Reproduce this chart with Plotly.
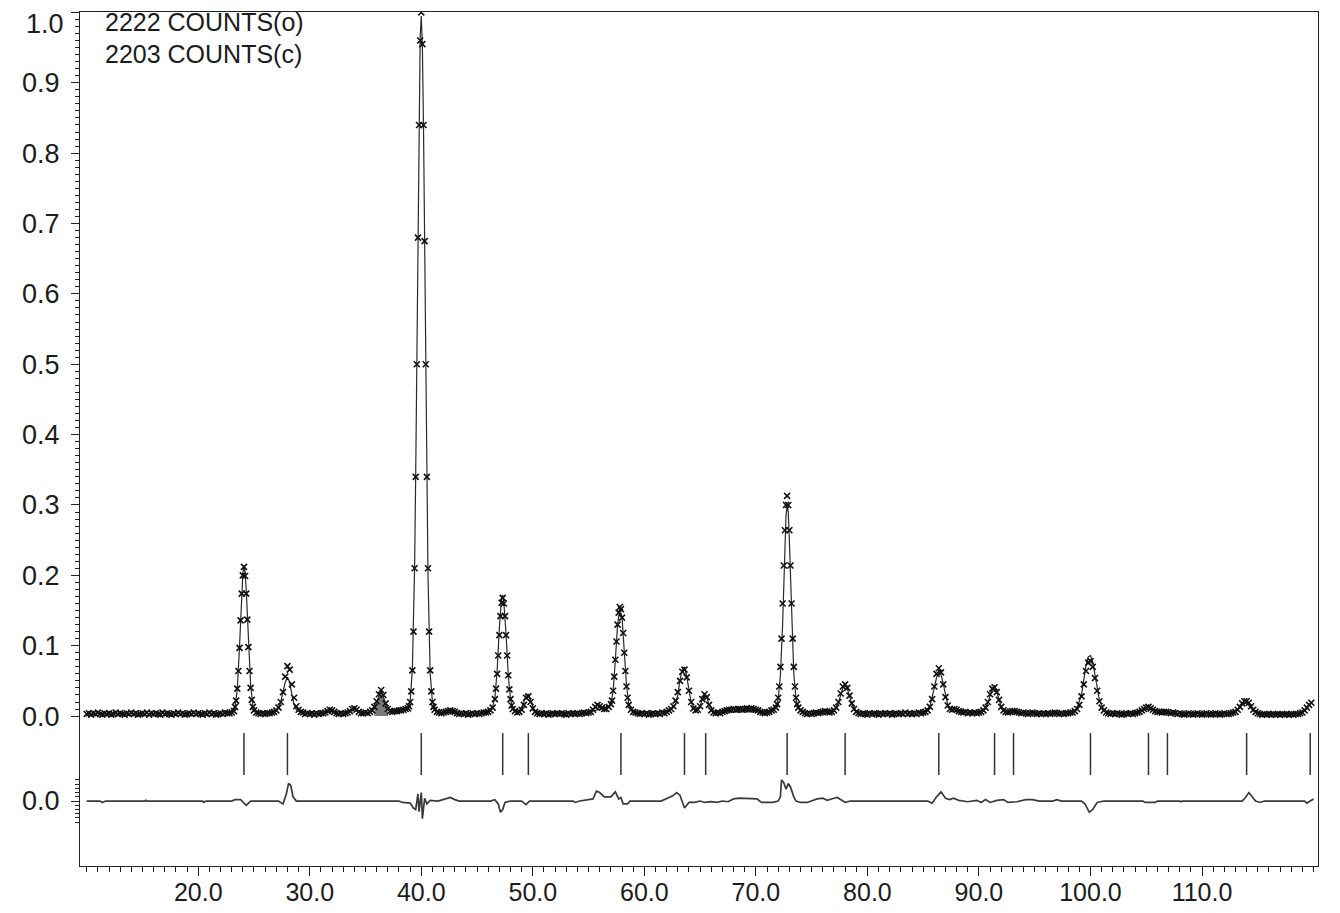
import plotly.graph_objects as go

# ---------------- data ----------------
# observed intensity, sampled on scan segments (start, stop, step)
obs_10_23 = [0.003,0.004,0.002,0.004,0.003,0.005,0.003,0.002,0.004,0.003,
             0.004,0.002,0.003,0.005,0.003,0.004,0.003,0.002,0.004,0.003,
             0.005,0.003,0.004,0.002,0.003,0.004,0.003,0.005,0.002,0.004,
             0.003,0.004,0.003,0.002,0.005,0.003,0.004,0.003,0.002,0.004,
             0.003,0.005,0.003,0.004,0.002,0.003,0.004,0.003,0.005,0.003,
             0.004,0.003,0.002,0.004,0.003,0.005,0.003,0.004,0.002,0.003,
             0.004,0.003,0.005,0.004,0.004,0.005,0.007]
obs_23_25 = [0.013,0.022,0.039,0.064,0.097,0.136,0.174,0.200,0.212,0.199,
             0.174,0.137,0.098,0.064,0.040,0.023,0.013,0.008]
obs_25_39 = [0.005,0.004,0.003,0.004,0.003,0.004,0.004,0.005,0.006,0.008,
             0.012,0.020,0.034,0.056,0.071,0.066,0.045,0.026,0.014,0.009,
             0.006,0.005,0.003,0.004,0.003,0.004,0.002,0.004,0.003,0.004,
             0.004,0.005,0.007,0.009,0.008,0.006,0.004,0.003,0.004,0.003,
             0.004,0.005,0.007,0.010,0.011,0.009,0.006,0.004,0.004,0.005,
             0.004,0.006,0.008,0.013,0.021,0.031,0.037,0.030,0.018,0.010,
             0.007,0.006,0.007,0.007,0.008,0.008,0.009,0.010,0.011]
obs_39_41 = [0.014,0.020,0.035,0.065,0.120,0.210,0.340,0.500,0.680,0.840,
             0.960,1.000,0.955,0.840,0.675,0.500,0.340,0.210,0.120,0.065,
             0.035,0.020,0.013,0.009]
obs_41_47 = [0.006,0.005,0.004,0.005,0.006,0.007,0.008,0.007,0.006,0.004,
             0.003,0.004,0.003,0.004,0.002,0.003,0.004,0.003,0.004,0.003,
             0.004,0.005,0.005,0.006,0.008,0.012,0.024]
obs_47_48 = [0.039,0.060,0.086,0.115,0.142,0.161,0.168,0.160,0.142,0.115,
             0.086,0.058,0.038,0.024,0.015,0.010]
obs_48_57 = [0.007,0.005,0.006,0.009,0.016,0.026,0.028,0.020,0.011,0.006,
             0.004,0.003,0.004,0.003,0.004,0.002,0.003,0.004,0.003,0.004,
             0.003,0.004,0.003,0.002,0.004,0.003,0.004,0.003,0.004,0.003,
             0.004,0.005,0.004,0.005,0.006,0.009,0.013,0.016,0.014,0.012,
             0.010,0.010,0.013,0.017]
obs_57_59 = [0.022,0.036,0.056,0.080,0.106,0.130,0.147,0.155,0.152,0.140,
             0.118,0.090,0.064,0.042,0.026,0.016]
obs_59_72 = [0.009,0.006,0.005,0.004,0.003,0.004,0.003,0.004,0.002,0.003,
             0.004,0.003,0.004,0.003,0.005,0.004,0.006,0.008,0.010,0.014,
             0.022,0.034,0.050,0.063,0.066,0.055,0.036,0.020,0.011,0.008,
             0.009,0.014,0.024,0.031,0.027,0.016,0.008,0.005,0.004,0.005,
             0.004,0.006,0.007,0.008,0.009,0.009,0.010,0.009,0.010,0.010,
             0.009,0.010,0.011,0.010,0.011,0.010,0.009,0.008,0.006,0.005,
             0.004,0.005,0.006,0.008,0.009,0.012]
obs_72_74 = [0.017,0.026,0.042,0.070,0.110,0.160,0.214,0.264,0.300,0.313,
             0.300,0.264,0.214,0.160,0.110,0.070,0.042,0.026,0.017,0.012]
obs_74_120 = [0.008,0.006,0.004,0.003,0.004,0.003,0.004,0.005,0.004,0.005,
              0.006,0.007,0.006,0.005,0.006,0.008,0.012,0.020,0.032,0.042,
              0.045,0.040,0.029,0.018,0.010,0.006,0.004,0.003,0.004,0.003,
              0.002,0.004,0.003,0.004,0.003,0.002,0.004,0.003,0.004,0.003,
              0.004,0.002,0.003,0.004,0.003,0.004,0.003,0.005,0.003,0.004,
              0.003,0.004,0.003,0.005,0.004,0.005,0.006,0.008,0.013,0.024,
              0.042,0.060,0.068,0.062,0.045,0.027,0.015,0.010,0.009,0.010,
              0.009,0.007,0.006,0.005,0.006,0.004,0.005,0.004,0.005,0.004,
              0.005,0.006,0.008,0.012,0.020,0.031,0.039,0.041,0.034,0.023,
              0.013,0.008,0.006,0.005,0.006,0.007,0.007,0.006,0.005,0.004,
              0.005,0.004,0.003,0.004,0.005,0.004,0.003,0.004,0.003,0.004,
              0.003,0.004,0.003,0.004,0.005,0.004,0.003,0.004,0.003,0.004,
              0.004,0.005,0.005,0.007,0.010,0.016,0.028,0.045,0.064,0.076,
              0.078,0.070,0.054,0.036,0.021,0.012,0.008,0.005,0.004,0.003,
              0.004,0.003,0.004,0.003,0.002,0.003,0.004,0.003,0.004,0.003,
              0.004,0.005,0.006,0.008,0.010,0.012,0.013,0.011,0.009,0.007,
              0.006,0.006,0.005,0.006,0.006,0.005,0.004,0.005,0.004,0.003,
              0.004,0.003,0.002,0.003,0.004,0.003,0.002,0.003,0.004,0.003,
              0.002,0.003,0.004,0.003,0.002,0.003,0.004,0.003,0.002,0.003,
              0.004,0.003,0.003,0.004,0.005,0.006,0.009,0.013,0.018,0.021,
              0.021,0.019,0.014,0.009,0.006,0.004,0.003,0.002,0.003,0.002,
              0.003,0.002,0.003,0.002,0.003,0.002,0.003,0.002,0.003,0.002,
              0.003,0.002,0.003,0.003,0.004,0.005,0.008,0.012,0.016,0.019]

scan_segments = [  # (start 2theta, end 2theta, step, observed values)
    (10.0, 23.2, 0.2, obs_10_23),
    (23.3, 25.0, 0.1, obs_23_25),
    (25.2, 38.8, 0.2, obs_25_39),
    (38.9, 41.2, 0.1, obs_39_41),
    (41.4, 46.6, 0.2, obs_41_47),
    (46.7, 48.2, 0.1, obs_47_48),
    (48.4, 57.0, 0.2, obs_48_57),
    (57.1, 58.6, 0.1, obs_57_59),
    (58.8, 71.8, 0.2, obs_59_72),
    (71.9, 73.8, 0.1, obs_72_74),
    (74.0, 119.8, 0.2, obs_74_120),
]

# calculated profile
calc_x = [10.0, 23.0, 23.3, 23.5, 23.7, 23.9, 24.0, 24.1, 24.2, 24.3, 24.5, 24.7, 24.9, 25.2,
          26.8, 27.2, 27.4, 27.6, 27.8, 28.0, 28.2, 28.4, 28.6, 28.8, 29.2,
          31.4, 32.0, 32.6, 33.4, 34.0, 34.6, 35.4, 36.0, 36.4, 36.8, 37.2, 38.0, 38.8,
          39.0, 39.2, 39.4, 39.5, 39.6, 39.7, 39.8, 39.9, 40.0, 40.1, 40.2, 40.3, 40.4, 40.5,
          40.6, 40.8, 41.0, 41.4,
          42.0, 42.6, 43.2, 45.6, 46.4, 46.6, 46.8, 47.0, 47.1, 47.2, 47.3, 47.4, 47.6, 47.8,
          48.0, 48.2, 48.6,
          49.0, 49.4, 49.6, 49.8, 50.2, 54.6, 55.4, 55.8, 56.2, 56.6, 57.0, 57.2, 57.4, 57.6,
          57.8, 58.0, 58.2, 58.4, 58.6, 58.8, 59.2,
          62.2, 62.6, 62.8, 63.0, 63.2, 63.4, 63.6, 63.8, 64.0, 64.2, 64.6, 65.0, 65.2, 65.4,
          65.6, 65.8, 66.2,
          68.0, 70.0, 71.4, 71.8, 72.0, 72.2, 72.4, 72.6, 72.7, 72.8, 72.9, 73.0, 73.2, 73.4,
          73.6, 73.8, 74.2,
          77.0, 77.4, 77.8, 78.0, 78.2, 78.6, 79.0, 85.2, 85.6, 86.0, 86.2, 86.4, 86.6, 86.8,
          87.2, 87.6,
          90.4, 90.8, 91.2, 91.4, 91.6, 92.0, 92.4, 93.2, 94.0, 98.4, 98.8, 99.2, 99.6, 99.8,
          100.0, 100.2, 100.4, 100.8, 101.2, 101.8,
          104.4, 105.0, 105.2, 105.6, 106.2, 106.8, 107.4, 112.8, 113.2, 113.6, 113.8, 114.0,
          114.2, 114.6, 115.0, 118.6, 119.0, 119.4, 119.8]
calc_y = [0.003, 0.004, 0.012, 0.038, 0.098, 0.178, 0.202, 0.212, 0.205, 0.181, 0.104, 0.044, 0.015, 0.006,
          0.005, 0.012, 0.020, 0.032, 0.048, 0.055, 0.048, 0.030, 0.016, 0.009, 0.005,
          0.004, 0.008, 0.004, 0.005, 0.011, 0.005, 0.005, 0.020, 0.036, 0.018, 0.007, 0.008, 0.011,
          0.020, 0.066, 0.210, 0.345, 0.510, 0.690, 0.850, 0.965, 0.995, 0.950, 0.835, 0.665, 0.490, 0.330,
          0.200, 0.060, 0.020, 0.006,
          0.005, 0.006, 0.004, 0.004, 0.013, 0.026, 0.064, 0.125, 0.155, 0.170, 0.172, 0.162, 0.116, 0.058,
          0.024, 0.010, 0.006,
          0.010, 0.030, 0.031, 0.021, 0.006, 0.004, 0.007, 0.009, 0.010, 0.012, 0.017, 0.035, 0.080, 0.130,
          0.153, 0.140, 0.092, 0.044, 0.017, 0.010, 0.005,
          0.007, 0.012, 0.016, 0.030, 0.052, 0.066, 0.070, 0.056, 0.035, 0.019, 0.009, 0.014, 0.024, 0.031,
          0.027, 0.016, 0.006,
          0.006, 0.006, 0.008, 0.012, 0.024, 0.058, 0.132, 0.245, 0.285, 0.298, 0.290, 0.250, 0.140, 0.060,
          0.024, 0.012, 0.006,
          0.007, 0.019, 0.040, 0.044, 0.039, 0.018, 0.006, 0.006, 0.014, 0.040, 0.055, 0.063, 0.059, 0.046,
          0.016, 0.007,
          0.007, 0.019, 0.039, 0.042, 0.034, 0.013, 0.006, 0.006, 0.004, 0.005, 0.011, 0.031, 0.072, 0.084,
          0.086, 0.077, 0.058, 0.023, 0.008, 0.004,
          0.006, 0.012, 0.013, 0.009, 0.006, 0.006, 0.004, 0.004, 0.009, 0.016, 0.019, 0.018,
          0.015, 0.007, 0.004, 0.003, 0.005, 0.011, 0.018]

# difference curve (obs - calc)
diff_x = [10.0, 11.2, 11.4, 11.7, 15.2, 15.3, 15.4, 20.4, 20.5, 20.7,
          23.0, 23.3, 23.8, 24.3, 24.7, 27.2, 27.6, 27.9, 28.1, 28.3, 28.5, 28.8,
          38.0, 38.3, 39.0, 39.3, 39.5, 39.7, 39.8, 40.0, 40.1, 40.3, 40.5, 40.8, 41.5, 42.2,
          42.6, 43.0, 43.4,
          46.2, 46.6, 46.9, 47.1, 47.3, 47.5, 48.0, 49.0, 49.4, 49.7,
          53.6, 53.8, 54.2, 55.4, 55.7, 56.0, 56.4, 57.0, 57.4, 57.7, 57.9, 58.1, 58.5, 58.7,
          61.5, 61.8, 62.5, 62.9, 63.2, 63.6, 63.8, 64.0, 64.5,
          65.0, 65.4, 66.0, 66.5, 67.0, 67.5, 68.0, 68.5, 69.5, 70.1, 70.5, 71.5, 72.0, 72.2,
          72.3, 72.5, 72.7, 72.9, 73.1, 73.4, 73.6, 74.0, 74.6, 75.5, 76.0, 76.4, 77.0, 77.3,
          77.7, 78.0, 78.5,
          85.4, 85.8, 86.2, 86.6, 87.0, 87.4, 87.7, 88.2, 89.0, 89.8, 90.2, 90.6, 91.0, 91.6,
          92.2, 92.6, 93.4, 94.2, 94.8, 95.4, 96.6, 97.0, 97.4,
          99.2, 99.5, 99.9, 100.2, 100.6, 101.2, 104.7, 104.9, 105.8, 106.0, 108.0, 108.1, 108.2,
          113.6, 113.9, 114.2, 114.5, 114.8, 115.2, 115.6, 119.2, 119.4, 119.7, 120.0]
diff_y = [0.0, 0.0, -0.002, 0.0, 0.0, 0.001, 0.0, 0.0, -0.002, 0.0,
          0.0, 0.002, 0.002, -0.006, 0.0, 0.0, -0.004, 0.010, 0.025, 0.022, 0.006, 0.0,
          0.0, -0.002, -0.003, -0.010, -0.012, 0.010, -0.015, 0.012, -0.025, 0.004, -0.004, 0.001, 0.0, 0.003,
          0.005, 0.002, 0.0,
          0.0, 0.002, -0.004, -0.016, -0.012, -0.002, 0.0, 0.0, -0.005, 0.0,
          0.0, -0.002, 0.0, 0.003, 0.014, 0.012, 0.006, 0.006, 0.013, 0.003, 0.005, -0.004, -0.004, 0.0,
          0.0, 0.002, 0.007, 0.012, 0.008, -0.010, -0.006, -0.002, -0.002,
          0.0, -0.002, -0.001, -0.002, 0.0, -0.001, 0.003, 0.004, 0.004, 0.003, -0.002, -0.002, 0.0, 0.006,
          0.030, 0.026, 0.017, 0.025, 0.020, 0.006, 0.0, -0.002, -0.002, 0.003, 0.004, 0.001, 0.004, 0.005,
          0.001, -0.002, 0.0,
          0.0, -0.003, 0.006, 0.013, 0.004, 0.002, 0.004, 0.001, -0.001, 0.001, -0.002, 0.002, -0.002, 0.001,
          0.002, -0.002, -0.001, 0.002, 0.002, 0.0, 0.0, 0.002, 0.0,
          0.0, -0.004, -0.016, -0.012, -0.002, 0.0, 0.0, -0.002, -0.002, 0.0, 0.0, -0.001, 0.0,
          0.0, 0.005, 0.012, 0.006, 0.0, -0.002, 0.0, 0.0, -0.003, 0.0, 0.003]

# Bragg reflection positions (2theta)
reflections = [24.1, 28.0, 40.0, 47.3, 49.6, 57.9, 63.6, 65.5, 72.8, 78.0,
               86.4, 91.4, 93.1, 100.0, 105.2, 106.9, 114.0, 119.7]

# window of the shaded (grey) peak
shaded_window = (35.8, 37.0)

y_tick_vals = [0.0, 0.1, 0.2, 0.3, 0.4, 0.5, 0.6, 0.7, 0.8, 0.9, 1.0]
x_tick_vals = [20, 30, 40, 50, 60, 70, 80, 90, 100, 110]
count_labels = ["2222 COUNTS(o)", "2203 COUNTS(c)"]

# ---------------- build observed arrays ----------------
obs_x, obs_y = [], []
for start, stop, step, vals in scan_segments:
    n = int(round((stop - start) / step)) + 1
    assert n == len(vals), (start, stop, n, len(vals))
    for i, v in enumerate(vals):
        obs_x.append(round(start + i * step, 3))
        obs_y.append(v)

shade_x = [x for x in obs_x if shaded_window[0] <= x <= shaded_window[1]]
shade_y = [y for x, y in zip(obs_x, obs_y) if shaded_window[0] <= x <= shaded_window[1]]

# ---------------- layout geometry (page has an 8 px body margin) ----------------
PAGE_OFF = 8
W, H = 1324, 897
PL, PR, PT, PB = 80, 1318, 12, 866        # plot box in window pixels
ML, MT = PL - PAGE_OFF, PT - PAGE_OFF
MR = W - (PR - PAGE_OFF)
MB = H - (PB - PAGE_OFF)
plot_w, plot_h = PR - PL, PB - PT
ZERO_PX = 716
px_per_unit = (ZERO_PX - PT) / 1.0
main_bottom = -(PB - ZERO_PX) / px_per_unit
main_top = 1.0 + 0.4 / px_per_unit
diff_zero_px = 801
diff_bottom = -(PB - diff_zero_px) / px_per_unit
diff_top = (diff_zero_px - PT) / px_per_unit + 0.4 / px_per_unit
tick_level = -(754 - ZERO_PX) / px_per_unit

FONT = "Liberation Sans, Arial, sans-serif"
INK = "#1c1c1c"
YLAB_SIZE = 27

fig = go.Figure()

fig.add_trace(go.Scatter(x=shade_x, y=shade_y, mode="lines", fill="tozeroy",
                         fillcolor="#7a7a7a", line=dict(width=0), hoverinfo="skip",
                         showlegend=False))
fig.add_trace(go.Scatter(x=calc_x, y=calc_y, mode="lines",
                         line=dict(color="#2a2a2a", width=1.2), showlegend=False))
fig.add_trace(go.Scatter(x=obs_x, y=obs_y, mode="markers",
                         marker=dict(symbol="x-thin", size=6,
                                     line=dict(color="#111111", width=1.6)),
                         showlegend=False))
fig.add_trace(go.Scatter(x=reflections, y=[tick_level] * len(reflections), mode="markers",
                         marker=dict(symbol="line-ns", size=30,
                                     line=dict(color="#333333", width=1.5)),
                         showlegend=False))
fig.add_trace(go.Scatter(x=diff_x, y=diff_y, mode="lines", yaxis="y2",
                         line=dict(color="#3a3a3a", width=1.7), showlegend=False))

minor_main = [round(k * 0.01, 3) for k in range(0, 101) if k % 10 != 0]
minor_diff = [round(k * 0.006, 4) for k in range(-5, 6) if k != 0]

# the top label (1.0) sits at the very edge of the page: drawn as annotation, nudged in
y_tick_text = [f"{v:.1f}" for v in y_tick_vals]
top_label = y_tick_text[-1]
y_tick_text[-1] = ""

fig.update_layout(
    width=W, height=H,
    margin=dict(l=ML, r=MR, t=MT, b=MB),
    paper_bgcolor="white", plot_bgcolor="white",
    font=dict(family=FONT, color=INK),
    xaxis=dict(range=[9.4, 120.4], showgrid=False, zeroline=False, automargin=False,
               showline=True, linecolor="#222", linewidth=1.2, mirror=True,
               tickmode="array", tickvals=x_tick_vals,
               ticktext=[f"{v:.1f}" for v in x_tick_vals],
               ticks="outside", ticklen=9, tickwidth=1.2, tickcolor="#222",
               ticklabelstandoff=-5, ticklabeloverflow="allow",
               tickfont=dict(size=25, family=FONT, color=INK),
               minor=dict(dtick=1, tick0=0, ticks="outside", ticklen=5,
                          tickwidth=1, tickcolor="#222", showgrid=False)),
    yaxis=dict(range=[main_bottom, main_top], showgrid=False, zeroline=False,
               automargin=False,
               showline=True, linecolor="#222", linewidth=1.2, mirror=True,
               tickmode="array", tickvals=y_tick_vals, ticktext=y_tick_text,
               ticks="outside", ticklen=8, tickwidth=1.2, tickcolor="#222",
               ticklabelstandoff=6, ticklabeloverflow="allow",
               tickfont=dict(size=YLAB_SIZE, family=FONT, color=INK),
               minor=dict(tickmode="array", tickvals=minor_main, ticks="outside",
                          ticklen=4, tickwidth=1, tickcolor="#222", showgrid=False)),
    yaxis2=dict(range=[diff_bottom, diff_top], overlaying="y", side="left",
                showgrid=False, zeroline=False, showline=False, automargin=False,
                tickmode="array", tickvals=[0.0], ticktext=["0.0"],
                ticks="outside", ticklen=8, tickwidth=1.2, tickcolor="#222",
                ticklabelstandoff=6, ticklabeloverflow="allow",
                tickfont=dict(size=YLAB_SIZE, family=FONT, color=INK),
                minor=dict(tickmode="array", tickvals=minor_diff, ticks="outside",
                           ticklen=4, tickwidth=1, tickcolor="#222", showgrid=False)),
)

fig.add_annotation(text=top_label, xref="paper", yref="y", x=0, y=y_tick_vals[-1],
                   xanchor="right", yanchor="top", xshift=-15, yshift=4, borderpad=0,
                   showarrow=False, font=dict(size=YLAB_SIZE, family=FONT, color=INK))

for i, txt in enumerate(count_labels):
    fig.add_annotation(text=txt, xref="paper", yref="paper",
                       x=(103 - PL) / plot_w, y=1 - (22 + 32 * i - PT) / plot_h,
                       xanchor="left", yanchor="middle", showarrow=False,
                       font=dict(size=25, family=FONT, color=INK))

fig.write_html("out.html")
